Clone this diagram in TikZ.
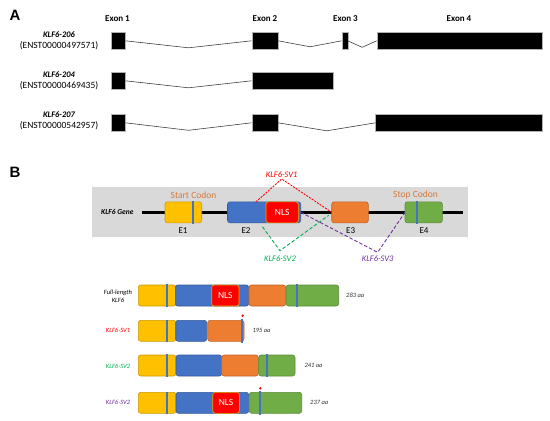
\documentclass[tikz,border=0pt]{standalone}
\usepackage{fontspec}
\setmainfont{Carlito}
\newfontfamily\panelfont{Liberation Sans}
\usepackage{tikz}
\usetikzlibrary{positioning, calc}

\definecolor{exyellow}{HTML}{FFC000}
\definecolor{exblue}{HTML}{4472C4}
\definecolor{exorange}{HTML}{ED7D31}
\definecolor{exgreen}{HTML}{70AD47}
\definecolor{codon}{HTML}{D57B3C}
\definecolor{svred}{HTML}{FF0000}
\definecolor{svgreen}{HTML}{00B050}
\definecolor{svpurple}{HTML}{7030A0}
\definecolor{bandgray}{HTML}{D9D9D9}

\begin{document}
\begin{tikzpicture}[x=1pt, y=-1pt,
    panellab/.style={font=\panelfont\bfseries\fontsize{15}{15}\selectfont},
    exonlab/.style={font=\bfseries\fontsize{9}{10}\selectfont},
    txlab/.style={align=center, font=\fontsize{9.5}{10.5}\selectfont},
    exon/.style={draw=gray!60, line width=0.4pt, fill=black, inner sep=0pt, outer sep=0pt, anchor=north west},
    intron/.style={draw=black!75, line width=0.6pt},
    seg/.style={rounded corners=2.5pt, line width=0.6pt, inner sep=0pt, outer sep=0pt, minimum height=21pt, anchor=west},
    yel/.style={seg, fill=exyellow, draw=exyellow!80!black},
    blu/.style={seg, fill=exblue, draw=exblue!80!black},
    org/.style={seg, fill=exorange, draw=exorange!80!black},
    grn/.style={seg, fill=exgreen, draw=exgreen!80!black},
    nls/.style={seg, fill=red, draw=exyellow!90!black, text=white, font=\fontsize{9.5}{10}\selectfont},
    marker/.style={draw=exblue, line width=2pt},
    codonlab/.style={text=codon, font=\fontsize{9.5}{10}\selectfont},
    elab/.style={font=\fontsize{9}{10}\selectfont},
    svlab/.style={inner sep=0.5pt, font=\itshape\fontsize{8.5}{9}\selectfont},
    svline/.style={line width=0.9pt, dash pattern=on 3.5pt off 2pt},
    rowlab/.style={align=center, font=\itshape\fontsize{6.5}{7.3}\selectfont},
    aalab/.style={text=black!80, font=\itshape\fontsize{6.5}{7}\selectfont}]

    % 背景
    \fill[white] (0,0) rectangle (550,421);

    % パネルA
    \node[panellab] (labA) at (15,15) {A};
    \node[exonlab] (x1) at (117.5,19) {Exon 1};
    \node[exonlab] (x2) at (265,19) {Exon 2};
    \node[exonlab] (x3) at (345.5,19) {Exon 3};
    \node[exonlab] (x4) at (459,19) {Exon 4};

    % 転写産物のラベル
    \node[txlab] (t206) at (59,41) {{\bfseries\itshape\fontsize{8.5}{10.5}\selectfont KLF6-206}\\(ENST00000497571)};
    \node[txlab] (t204) at (59,81) {{\bfseries\itshape\fontsize{8.5}{10.5}\selectfont KLF6-204}\\(ENST00000469435)};
    \node[txlab] (t207) at (59,121) {{\bfseries\itshape\fontsize{8.5}{10.5}\selectfont KLF6-207}\\(ENST00000542957)};

    % KLF6-206
    \node[exon, minimum width=14.6, minimum height=17] (a1) at (110.7,32.3) {};
    \node[exon, minimum width=26.6, minimum height=17] (a2) at (251.7,32.3) {};
    \node[exon, minimum width=6, minimum height=17] (a3) at (341.7,32.3) {};
    \node[exon, minimum width=165, minimum height=17] (a4) at (376.7,32.3) {};
    \draw[intron] (a1.east) -- ($(a1.east)!.5!(a2.west)+(0,7)$) -- (a2.west);
    \draw[intron] (a2.east) -- ($(a2.east)!.5!(a3.west)+(0,6)$) -- (a3.west);
    \draw[intron] (a3.east) -- ($(a3.east)!.5!(a4.west)+(0,6.5)$) -- (a4.west);

    % KLF6-204
    \node[exon, minimum width=14.6, minimum height=17] (b1) at (110.7,72.3) {};
    \node[exon, minimum width=81, minimum height=17] (b2) at (251.7,72.3) {};
    \draw[intron] (b1.east) -- ($(b1.east)!.5!(b2.west)+(0,7)$) -- (b2.west);

    % KLF6-207
    \node[exon, minimum width=14.6, minimum height=17] (c1) at (110.7,114.3) {};
    \node[exon, minimum width=26.3, minimum height=17] (c2) at (251.7,114.3) {};
    \node[exon, minimum width=166.2, minimum height=17] (c4) at (375.5,114.3) {};
    \draw[intron] (c1.east) -- ($(c1.east)!.5!(c2.west)+(0,7.5)$) -- (c2.west);
    \draw[intron] (c2.east) -- ($(c2.east)!.5!(c4.west)+(0,8)$) -- (c4.west);

    % パネルB
    \node[panellab] (labB) at (15,172) {B};
    \fill[bandgray] (91.5,187) rectangle (468,237);

    % 遺伝子の線
    \coordinate (gs) at (142.3,212.3);
    \coordinate (ge) at (463.3,212.3);
    \draw[line width=2.6pt] (gs) -- (ge);
    \node[anchor=east, font=\bfseries\itshape\fontsize{7.5}{8}\selectfont] (gene) at (137,212.3) {KLF6 Gene};

    % エクソン
    \node[yel, minimum width=36.7] (e1) at (165,212.3) {};
    \node[blu, minimum width=73.2] (e2) at (227.5,212.3) {};
    \node[nls, minimum width=32.3] (nls) at (266,212.3) {NLS};
    \node[org, minimum width=36.6] (e3) at (331.7,212.3) {};
    \node[grn, minimum width=37.3] (e4) at (405,212.3) {};
    \draw[marker] (193.3,200.5) -- (193.3,224);
    \draw[marker] (416.7,200.5) -- (416.7,224);

    \node[elab] (e1lab) at (183,231) {E1};
    \node[elab] (e2lab) at (246,231) {E2};
    \node[elab] (e3lab) at (350.7,231) {E3};
    \node[elab] (e4lab) at (424,231) {E4};
    \node[codonlab] (start) at (193.5,195) {Start Codon};
    \node[codonlab] (stop) at (415.5,195) {Stop Codon};

    % スプライシング
    \coordinate (v1) at (281.7,179);
    \coordinate (v2) at (280,250.7);
    \coordinate (v3) at (377.7,252.3);
    \node[svlab, text=svred, above=1pt of v1] (sv1) {KLF6-SV1};
    \node[svlab, text=svgreen, below=4.5pt of v2] (sv2) {KLF6-SV2};
    \node[svlab, text=svpurple, below=3pt of v3] (sv3) {KLF6-SV3};
    \draw[svline, svred, dash pattern=on 2pt off 1.2pt] ($(e2.north west)+(28.5,0)$) -- (v1) -- (e3.west);
    \draw[svline, svgreen] ($(e2.south west)+(35,4)$) -- (v2) -- ($(e3.west)+(-3,3)$);
    \draw[svline, svpurple] (e2.east) -- (v3) -- (e4.west);

    % タンパク質
    \node[rowlab] (fl) at (118,296.3) {Full-length\\KLF6};
    \node[rowlab, text=svred] (r1) at (118,330.7) {KLF6-SV1};
    \node[rowlab, text=svgreen] (r2) at (118,366) {KLF6-SV2};
    \node[rowlab, text=svpurple] (r3) at (118,402.7) {KLF6-SV2};

    % 全長
    \node[yel, minimum width=37.7] (f1) at (138.3,295.5) {};
    \node[blu, minimum width=73.4] (f2) at (175.3,295.5) {};
    \node[nls, minimum width=27.3] (f2n) at (211.7,295.5) {NLS};
    \node[org, minimum width=36.7] (f3) at (249,295.5) {};
    \node[grn, minimum width=52.7] (f4) at (286,295.5) {};
    \draw[marker] (167,284) -- (167,307);
    \draw[marker] (297.3,284) -- (297.3,307);
    \node[aalab, anchor=west] (f283) at ($(f4.east)+(4,0)$) {283 aa};

    % SV1
    \node[yel, minimum width=37.7] (s1) at (138.3,330.8) {};
    \node[blu, minimum width=31] (s2) at (175.7,330.8) {};
    \node[org, minimum width=36.3] (s3) at (207.7,330.8) {};
    \draw[marker] (167,319.5) -- (167,342);
    \draw[marker] (242.3,319) -- (242.3,342.5);
    \fill[svred] (242.7,315.7) circle[radius=1.3];
    \node[aalab, anchor=west] (s195) at ($(s3.east)+(5,0)$) {195 aa};

    % SV2
    \node[yel, minimum width=37.7] (p1) at (138.3,365.5) {};
    \node[blu, minimum width=45.7] (p2) at (176,365.5) {};
    \node[org, minimum width=36.6] (p3) at (221.7,365.5) {};
    \node[grn, minimum width=36.3] (p4) at (258.7,365.5) {};
    \draw[marker] (166.5,354) -- (166.5,377);
    \draw[marker] (267.3,354) -- (267.3,377);
    \node[aalab, anchor=west] (p241) at ($(p4.east)+(6,0)$) {241 aa};

    % SV3
    \node[yel, minimum width=37.7] (q1) at (138.3,402.8) {};
    \node[blu, minimum width=72.7] (q2) at (176,402.8) {};
    \node[nls, minimum width=26.6] (q2n) at (212.7,402.8) {NLS};
    \node[grn, minimum width=52.4] (q4) at (249.3,402.8) {};
    \draw[marker] (166.7,391.5) -- (166.7,414);
    \draw[marker] (260.3,391) -- (260.3,414.5);
    \fill[svred] (260.3,388.3) circle[radius=1.3];
    \node[aalab, anchor=west] (q237) at ($(q4.east)+(5,0)$) {237 aa};
\end{tikzpicture}
\end{document}
